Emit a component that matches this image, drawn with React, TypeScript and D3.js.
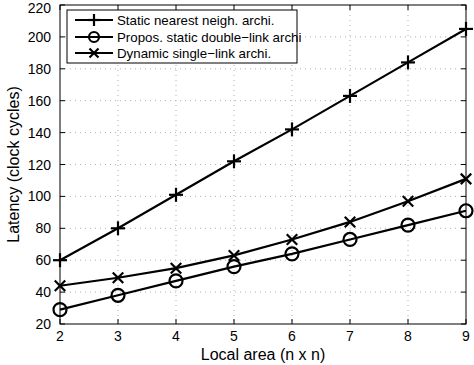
import React from "react";
import * as d3 from "d3";

const xValues = [2, 3, 4, 5, 6, 7, 8, 9];
const staticNearest = [60, 80, 101, 122, 142, 163, 184, 205];
const proposedDouble = [29, 38, 47, 56, 64, 73, 82, 91];
const dynamicSingle = [44, 49, 55, 63, 73, 84, 97, 111];
const yTicks = [20, 40, 60, 80, 100, 120, 140, 160, 180, 200, 220];
const seriesNames = [
  "Static nearest neigh. archi.",
  "Propos. static double\u2212link archi",
  "Dynamic single\u2212link archi.",
];

const W = 474, H = 365;
const L = 60, R = 466, T = 5, B = 324;
const FONT = "Liberation Sans, Arial, Helvetica, sans-serif";

function Marker({ type, x, y, s }: { type: string; x: number; y: number; s: number }) {
  if (type === "plus") {
    return (
      <g stroke="#000" strokeWidth={2.2}>
        <line x1={x - s} x2={x + s} y1={y} y2={y} />
        <line x1={x} x2={x} y1={y - s} y2={y + s} />
      </g>
    );
  }
  if (type === "circle") {
    return <circle cx={x} cy={y} r={s} fill="none" stroke="#000" strokeWidth={2.2} />;
  }
  const d = s * 0.75;
  return (
    <g stroke="#000" strokeWidth={2.2}>
      <line x1={x - d} x2={x + d} y1={y - d} y2={y + d} />
      <line x1={x - d} x2={x + d} y1={y + d} y2={y - d} />
    </g>
  );
}

export default function App() {
  const x = d3.scaleLinear().domain([2, 9]).range([L, R]);
  const y = d3.scaleLinear().domain([20, 220]).range([B, T]);
  const series = [
    { data: staticNearest, type: "plus", size: 7 },
    { data: proposedDouble, type: "circle", size: 6.5 },
    { data: dynamicSingle, type: "x", size: 7 },
  ];
  const line = d3
    .line<number>()
    .x((_, i) => x(xValues[i]))
    .y((v) => y(v));

  const legendRows = [20, 37, 53];

  return (
    <svg width={W} height={H} style={{ position: "absolute", left: 0, top: 0, background: "#fff" }} fontFamily={FONT}>
      <rect x={0} y={0} width={W} height={H} fill="#fff" />
      {/* grid */}
      <g stroke="#b0b0b0" strokeWidth={1} strokeDasharray="1,4">
        {xValues.slice(1, -1).map((v) => (
          <line key={"gx" + v} x1={x(v)} x2={x(v)} y1={T} y2={B} />
        ))}
        {yTicks.slice(1, -1).map((v) => (
          <line key={"gy" + v} x1={L} x2={R} y1={y(v)} y2={y(v)} />
        ))}
      </g>
      {/* ticks */}
      <g stroke="#000" strokeWidth={1}>
        {xValues.map((v) => (
          <g key={"tx" + v}>
            <line x1={x(v)} x2={x(v)} y1={B} y2={B - 5} />
            <line x1={x(v)} x2={x(v)} y1={T} y2={T + 5} />
          </g>
        ))}
        {yTicks.map((v) => (
          <g key={"ty" + v}>
            <line x1={L} x2={L + 5} y1={y(v)} y2={y(v)} />
            <line x1={R} x2={R - 5} y1={y(v)} y2={y(v)} />
          </g>
        ))}
      </g>
      <rect x={L} y={T} width={R - L} height={B - T} fill="none" stroke="#000" strokeWidth={1} />
      {/* tick labels */}
      <g fontSize={14} fill="#000">
        {xValues.map((v) => (
          <text key={"lx" + v} x={x(v)} y={B + 17} textAnchor="middle">{v}</text>
        ))}
        {yTicks.map((v) => (
          <text key={"ly" + v} x={L - 9} y={Math.max(y(v) + 5, 13)} textAnchor="end">{v}</text>
        ))}
      </g>
      {/* axis labels */}
      <text x={263} y={360} textAnchor="middle" fontSize={16}>Local area (n x n)</text>
      <text transform={`translate(19,${(T + B) / 2}) rotate(-90)`} textAnchor="middle" fontSize={16}>
        Latency (clock cycles)
      </text>
      {/* series */}
      {series.map((s, si) => (
        <g key={"s" + si}>
          <path d={line(s.data) || ""} fill="none" stroke="#000" strokeWidth={2.2} />
          {s.data.map((v, i) => (
            <Marker key={i} type={s.type} x={x(xValues[i])} y={y(v)} s={s.size} />
          ))}
        </g>
      ))}
      {/* legend */}
      <rect x={67} y={10} width={230} height={53} fill="#fff" stroke="#000" strokeWidth={1} />
      {series.map((s, i) => (
        <g key={"lg" + i}>
          <line x1={75} x2={113} y1={legendRows[i]} y2={legendRows[i]} stroke="#000" strokeWidth={2.2} />
          <Marker type={s.type} x={94} y={legendRows[i]} s={s.type === "circle" ? 5 : 6} />
          <text x={117} y={legendRows[i] + 5} fontSize={13.3}>{seriesNames[i]}</text>
        </g>
      ))}
    </svg>
  );
}
